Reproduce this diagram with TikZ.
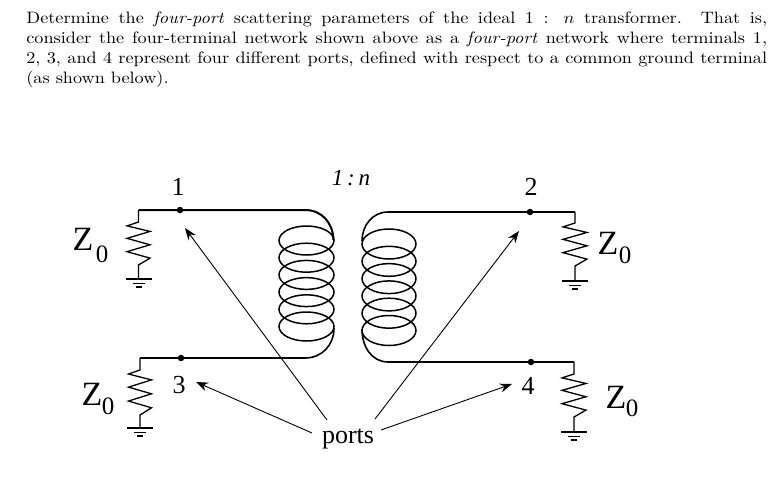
\documentclass[tikz,border=0pt]{standalone}
\usepackage{fontspec}
\usetikzlibrary{arrows.meta}
\newfontfamily\tnr{Liberation Serif}
\tikzset{
  wirethick/.style={line width=1.6pt,line join=miter},
  wirebold/.style={line width=2pt,line join=miter},
  coilloop/.style={line width=1.5pt},
  res/.style={line width=1.3pt,line join=miter},
  gndline/.style={line width=1.3pt},
  pointer/.style={line width=0.9pt,-{Stealth[length=12pt,width=9pt]}},
  term/.style={circle,fill=black,inner sep=0pt,minimum size=6.5pt},
  lab/.style={inner sep=0pt,font=\tnr\fontsize{26}{28}\selectfont},
  bigz/.style={inner sep=0pt,font=\tnr\fontsize{34}{36}\selectfont},
  subz/.style={inner sep=0pt,font=\tnr\fontsize{25}{27}\selectfont},
}
% #1 name, #2 x, #3 y of the wire, #4 zig start, #5 half width, #6 zig end, #7 ground bar y
\newcommand{\myload}[7]{%
  \coordinate (#1top) at (#2,#3);
  \coordinate (#1gnd) at (#2,#7);
  \pgfmathsetmacro{\zstep}{(#6-#4)/100}
  \draw[res] (#1top) -- (#2,#4)
    -- ({#2-#5},{#4+9*\zstep}) -- ({#2+#5},{#4+22*\zstep})
    -- ({#2-#5},{#4+38*\zstep}) -- ({#2+#5},{#4+53*\zstep})
    -- ({#2-#5},{#4+69*\zstep}) -- ({#2+#5},{#4+84*\zstep})
    -- (#2,#6) -- (#1gnd);
  \draw[gndline] ({#2-13},#7) -- ({#2+13},#7);
  \draw[gndline] ({#2-6},{#7+4.2}) -- ({#2+6},{#7+4.2});
  \draw[gndline] ({#2-3},{#7+8}) -- ({#2+3},{#7+8});
}
\begin{document}
\begin{tikzpicture}[x=1pt,y=-1pt]
\useasboundingbox (0,0) rectangle (779,503);
\fill[white] (0,0) rectangle (779,503);
\node[anchor=north west,inner sep=0pt,xscale=1.82,yscale=1.65,transform shape,text width=407pt,align=justify] (para) at (26,11.5) {%
  \fontsize{10}{12.12}\selectfont\parindent=0pt
  Determine the \textit{four-port} scattering parameters of the ideal 1 : $n$ transformer.\ \ That is,\linebreak
  consider the four-terminal network shown above as a \textit{four-port} network where terminals 1,\linebreak
  2, 3, and 4 represent four different ports, defined with respect to a common ground terminal\linebreak
  (as shown below).\par};

% terminals
\node[term] (t1) at (180,210) {};
\node[term] (t2) at (530,212) {};
\node[term] (t3) at (181,358) {};
\node[term] (t4) at (531,362) {};
\node[lab] (n1) at (178,187) {1};
\node[lab] (n2) at (531,187) {2};
\node[lab] (n3) at (179,385) {3};
\node[lab] (n4) at (528,386) {4};
\node[inner sep=0pt,font=\tnr\itshape\fontsize{23}{25}\selectfont] (ratio) at (351,178) {1\,:\,n};
\node[lab] (ports) at (348,439) {ports};

% Z0 labels
\node[bigz] (za) at (83,239) {Z};  \node[subz] (zas) at (102,254) {0};
\node[bigz] (zb) at (608,243) {Z}; \node[subz] (zbs) at (625,255) {0};
\node[bigz] (zc) at (92,394) {Z};  \node[subz] (zcs) at (108,406) {0};
\node[bigz] (zd) at (616,397) {Z}; \node[subz] (zds) at (632,408) {0};

% loads
\myload{la}{138.5}{210}{222}{11.5}{265}{279}
\myload{lb}{575}{212}{223}{12}{266}{281}
\myload{lc}{140}{358}{370}{11.5}{415}{428}
\myload{ld}{574}{362}{374}{12}{417}{432}

% coils
\foreach \i in {0,...,5} {
  \draw[coilloop] (306.5,{240.5+17.2*\i}) ellipse [x radius=27.5,y radius=14.5];
  \draw[coilloop] (389,{244+17.3*\i}) ellipse [x radius=27,y radius=15];
}

% windings to terminals
\coordinate (cla) at (305,210);
\coordinate (clb) at (333.5,240);
\coordinate (clc) at (305,358);
\coordinate (cld) at (334,328);
\coordinate (cra) at (388,212);
\coordinate (crb) at (362,241);
\coordinate (crc) at (388,362);
\coordinate (crd) at (362,329);
\draw[wirebold] (latop) -- (t1.center) -- (cla) .. controls (322,210) and (333,223) .. (clb);
\draw[wirethick] (lbtop) -- (t2.center) -- (cra) .. controls (372,212) and (362,226) .. (crb);
\draw[wirethick] (lctop) -- (t3.center) -- (clc) .. controls (322,358) and (334,345) .. (cld);
\draw[wirethick] (ldtop) -- (t4.center) -- (crc) .. controls (372,362) and (362,347) .. (crd);

% pointers
\coordinate (pa) at (327,420);
\coordinate (pb) at (375,419);
\coordinate (pc) at (312,433);
\coordinate (pd) at (381,430);
\coordinate (ta) at (185,228);
\coordinate (tb) at (519,231);
\coordinate (tc) at (196,382);
\coordinate (td) at (512,384);
\draw[pointer] (pa) -- (ta);
\draw[pointer] (pb) -- (tb);
\draw[pointer] (pc) -- (tc);
\draw[pointer] (pd) -- (td);
\end{tikzpicture}
\end{document}
